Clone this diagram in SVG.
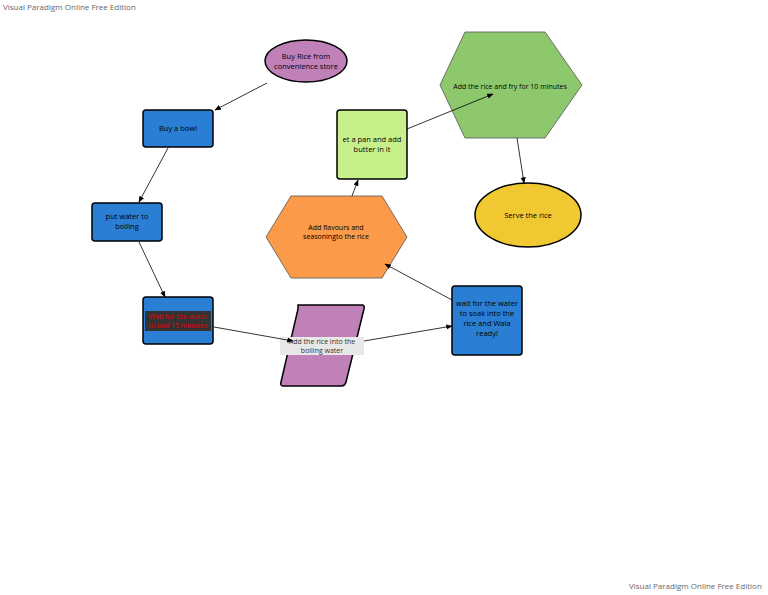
<svg xmlns="http://www.w3.org/2000/svg" width="768" height="595" viewBox="0 0 768 595">
<defs>
<style>
text{font-family:"Open Sans","Liberation Sans",sans-serif;font-size:7.5px;text-anchor:middle;fill:#000}
.sm{font-size:7px}
.s{stroke:#000;stroke-width:1.5}
.c{stroke:#000;stroke-width:0.8;fill:none;marker-end:url(#a)}
.wm{font-size:8px;fill:#666;text-anchor:start}
</style>
<marker id="a" viewBox="0 0 10 10" refX="9" refY="5" markerWidth="8" markerHeight="8" orient="auto"><path d="M0,1 L10,5 L0,9 z" fill="#000"/></marker>
</defs>
<rect width="768" height="595" fill="#fff"/>
<text class="wm" x="3" y="10">Visual Paradigm Online Free Edition</text>
<text class="wm" x="629" y="589">Visual Paradigm Online Free Edition</text>
<g id="n1"><ellipse class="s" cx="306" cy="61" rx="41" ry="21" fill="#c080b8"/><text x="306" y="59">Buy Rice from</text><text x="306" y="69">convenience store</text></g>
<g id="n2"><rect class="s" x="143" y="110" width="70" height="37" rx="3" fill="#2a7fd4"/><text x="178" y="131">Buy a bowl</text></g>
<g id="n3"><rect class="s" x="92" y="203" width="70" height="38" rx="3" fill="#2a7fd4"/><text x="127" y="219">put water to</text><text x="127" y="229">boiling</text></g>
<g id="n4"><rect class="s" x="143" y="297" width="70" height="47" rx="3" fill="#2a7fd4"/><rect x="145" y="311" width="66" height="20" fill="#333"/><text class="sm" x="178" y="319" style="fill:#e00000">Wait for the water</text><text class="sm" x="178" y="328" style="fill:#e00000">to boil 15 minutes</text></g>
<g id="n5"><path class="s" d="M298,305 L362,305 Q365,305 364,309 L346,382 Q345,386 341,386 L283,386 Q280,386 281,382 L298,309 Z" fill="#c080b8"/><rect x="280" y="337" width="84" height="18" fill="#e8e8e8"/><text class="sm" x="322" y="344" style="fill:#333">Add the rice into the</text><text class="sm" x="322" y="353" style="fill:#333">boiling water</text></g>
<g id="n6"><rect class="s" x="452" y="286" width="70" height="69" rx="3" fill="#2a7fd4"/><text x="487" y="306">wait for the water</text><text x="487" y="316">to soak into the</text><text x="487" y="326">rice and Wala</text><text x="487" y="336">ready!</text></g>
<g id="n7"><polygon points="266,237 291,196 382,196 407,237 382,278 291,278" fill="#fb9a48" stroke="#555" stroke-width="0.8"/><text class="sm" x="336" y="230">Add flavours and</text><text class="sm" x="336" y="239">seasoningto the rice</text></g>
<g id="n8"><rect class="s" x="337" y="110" width="70" height="69" rx="3" fill="#c8f08a"/><text x="372" y="142">et a pan and add</text><text x="372" y="152">butter in it</text></g>
<g id="n9"><polygon points="440,85 465,32 545,32 582,85 545,138 465,138" fill="#8dc86c" stroke="#555" stroke-width="0.8"/><text class="sm" x="510" y="89">Add the rice and fry for 10 minutes</text></g>
<g id="n10"><ellipse class="s" cx="528" cy="215" rx="53" ry="32" fill="#f0c832"/><text x="528" y="218">Serve the rice</text></g>
<g id="connectors">
<line class="c" x1="267" y1="83" x2="215" y2="110"/>
<line class="c" x1="168" y1="148" x2="139" y2="202"/>
<line class="c" x1="139" y1="242" x2="165" y2="297"/>
<line class="c" x1="214" y1="327" x2="293" y2="341"/>
<line class="c" x1="364" y1="341" x2="452" y2="326"/>
<line class="c" x1="452" y1="300" x2="385" y2="264"/>
<line class="c" x1="352" y1="196" x2="358" y2="180"/>
<line class="c" x1="407" y1="129" x2="493" y2="94"/>
<line class="c" x1="517" y1="138" x2="524" y2="183"/>
</g>
</svg>
